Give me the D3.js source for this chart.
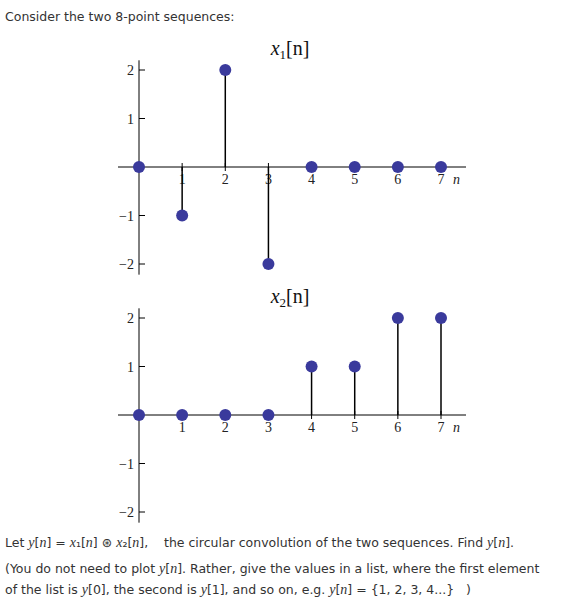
<!DOCTYPE html>
<html><head><meta charset="utf-8">
<script src="https://cdn.jsdelivr.net/npm/d3@7"></script>
<style>
body{margin:0;background:#fff;}
.t{font-family:"DejaVu Sans",Verdana,sans-serif;font-size:12.5px;fill:#333;}
.m{font-family:"Liberation Serif","DejaVu Serif",serif;font-style:italic;}
.s{font-family:"Liberation Serif","DejaVu Serif",serif;font-size:14px;fill:#222;}
</style></head><body>
<svg id="c" width="586" height="611"></svg>
<script>
const nIdx = [0,1,2,3,4,5,6,7];
const x1 = [0,-1,2,-2,0,0,0,0];
const x2 = [0,0,0,0,1,1,2,2];
const yTicks = [-2,-1,1,2];
const svg = d3.select("#c");
svg.append("text").attr("class","t").attr("x",5).attr("y",21).text("Consider the two 8-point sequences:");

const x = d3.scaleLinear().domain([0,7]).range([139,441]);
function panel(data, y0, title, sub){
  const y = d3.scaleLinear().domain([-2,2]).range([y0+97, y0-97]);
  const g = svg.append("g");
  // axes
  g.append("line").attr("x1",118).attr("x2",466).attr("y1",y(0)).attr("y2",y(0)).attr("stroke","#000");
  g.append("line").attr("x1",139).attr("x2",139).attr("y1",y(2.2)).attr("y2",y(-2.22)).attr("stroke","#000");
  yTicks.forEach(v=>{
    g.append("line").attr("x1",139).attr("x2",145).attr("y1",y(v)).attr("y2",y(v)).attr("stroke","#000");
    g.append("text").attr("class","s").attr("x",134).attr("y",y(v)+5).attr("text-anchor","end").text(v<0?"\u2212"+(-v):v);
  });
  nIdx.slice(1).forEach(n=>{
    g.append("line").attr("x1",x(n)).attr("x2",x(n)).attr("y1",y(0)-4).attr("y2",y(0)+4).attr("stroke","#000");
    g.append("text").attr("class","s").attr("x",x(n)).attr("y",y(0)+17).attr("text-anchor","middle").text(n);
  });
  g.append("text").attr("class","s m").attr("x",453).attr("y",y(0)+17).text("n");
  // stems
  g.selectAll(".st").data(nIdx).enter().append("line").attr("x1",n=>x(n)).attr("x2",n=>x(n))
    .attr("y1",y(0)).attr("y2",n=>y(data[n])).attr("stroke","#000").attr("stroke-width",1.5);
  g.selectAll(".dt").data(nIdx).enter().append("circle").attr("cx",n=>x(n)).attr("cy",n=>y(data[n]))
    .attr("r",6).attr("fill","#3a3a9c");
  const tt = g.append("text").attr("x",290).attr("y",y0-112).attr("text-anchor","middle").style("font-family","Liberation Serif,serif").style("font-size","20px").attr("fill","#111");
  tt.append("tspan").style("font-style","italic").text("x");
  tt.append("tspan").attr("dy",4).style("font-size","13px").text(sub);
  tt.append("tspan").attr("dy",-4).text("[n]");
}
panel(x1,167,"x1","1");
panel(x2,415,"x2","2");

const L = [
 {y:547, parts:[["Let ",0],["y",1],["[",0],["n",1],["] = ",0],["x",1],["\u2081[",0],["n",1],["] \u229B ",0],["x",1],["\u2082[",0],["n",1],["],    the circular convolution of the two sequences. Find ",0],["y",1],["[",0],["n",1],["].",0]]},
 {y:573, parts:[["(You do not need to plot ",0],["y",1],["[",0],["n",1],["]. Rather, give the values in a list, where the first element",0]]},
 {y:594, parts:[["of the list is ",0],["y",1],["[0], the second is ",0],["y",1],["[1], and so on, e.g. ",0],["y",1],["[",0],["n",1],["] = {1, 2, 3, 4...}   )",0]]}
];
L.forEach(l=>{
  const t = svg.append("text").attr("class","t").attr("x",5).attr("y",l.y).attr("xml:space","preserve");
  l.parts.forEach(p=>{const s=t.append("tspan").text(p[0]); if(p[1]) s.attr("class","m").style("font-size","14px");});
});
</script></body></html>
